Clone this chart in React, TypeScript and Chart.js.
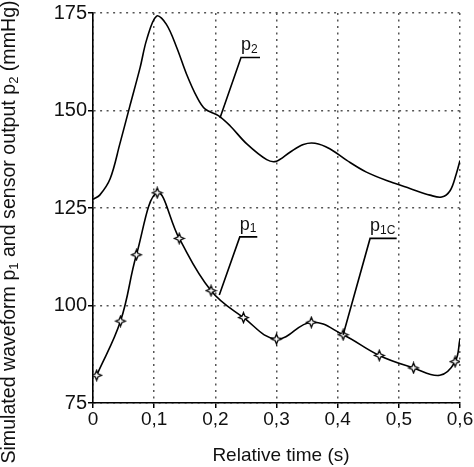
import { useEffect, useRef } from 'react';
import { Chart, registerables } from 'chart.js';

Chart.register(...registerables);

// Axis ticks
const timeTicks = [0, 0.1, 0.2, 0.3, 0.4, 0.5, 0.6];
const timeTickLabels = ['0', '0,1', '0,2', '0,3', '0,4', '0,5', '0,6'];
const pressureTicks = [75, 100, 125, 150, 175];

// Sensor output p2 (mmHg) over relative time (s)
const p2Time = [
  0.0, 0.011, 0.028, 0.044, 0.06, 0.077, 0.088, 0.104, 0.12, 0.137, 0.153, 0.17,
  0.183, 0.205, 0.224, 0.251, 0.284, 0.3, 0.322, 0.344, 0.363, 0.387, 0.415,
  0.447, 0.486, 0.518, 0.551, 0.57, 0.584, 0.594, 0.6,
];
const p2Value = [
  127.2, 128.3, 132.5, 141.5, 151.0, 161.0, 168.3, 174.2, 172.1, 166.1, 159.3, 153.4,
  150.4, 148.7, 146.1, 141.5, 137.4, 137.0, 139.3, 141.3, 141.6, 140.2, 137.2,
  134.2, 131.7, 130.0, 128.3, 127.8, 129.5, 133.8, 137.2,
];

// Simulated waveform p1 (mmHg); marked samples carry a star symbol
const p1Time = [
  0.006, 0.045, 0.071, 0.105, 0.141, 0.193, 0.246, 0.3, 0.357, 0.409, 0.468, 0.524,
  0.567, 0.592, 0.6,
];
const p1Value = [
  82.1, 96.0, 113.0, 128.9, 117.2, 103.8, 96.9, 91.4, 95.7, 92.5, 87.2, 84.0,
  82.1, 85.6, 91.4,
];
const p1Marked = [
  true, true, true, true, true, true, true, true, true, true, true, true,
  false, true, false,
];

const FONT = 'Arial, "Liberation Sans", Helvetica, sans-serif';

// Leader lines with their curve labels, in data coordinates
const leaders = [
  { main: 'p', sub: '2', at: [0.2076, 148.1], elbow: [0.242, 163.6], endX: 0.273 },
  { main: 'p', sub: '1', at: [0.2065, 102.7], elbow: [0.24, 117.6], endX: 0.2686 },
  { main: 'p', sub: '1C', at: [0.409, 92.5], elbow: [0.453, 117.2], endX: 0.4965 },
];

function makeStar(): HTMLCanvasElement {
  const c = document.createElement('canvas');
  const s = 13;
  c.width = s;
  c.height = s;
  const g = c.getContext('2d')!;
  const cx = s / 2;
  const cy = s / 2;
  const R = 5;
  const r = 2;
  g.beginPath();
  for (let i = 0; i < 8; i++) {
    const a = -Math.PI / 2 + (i * Math.PI) / 4;
    const rad = i % 2 === 0 ? R : r;
    const px = cx + rad * Math.cos(a);
    const py = cy + rad * Math.sin(a);
    if (i === 0) g.moveTo(px, py);
    else g.lineTo(px, py);
  }
  g.closePath();
  g.fillStyle = '#fff';
  g.fill();
  g.lineWidth = 1.3;
  g.strokeStyle = '#000';
  g.stroke();
  return c;
}

type Part = { t: string; sub?: boolean };

function richWidth(ctx: CanvasRenderingContext2D, parts: Part[], main: string, small: string) {
  let w = 0;
  for (const p of parts) {
    ctx.font = p.sub ? small : main;
    w += ctx.measureText(p.t).width;
  }
  return w;
}

function drawRich(
  ctx: CanvasRenderingContext2D,
  parts: Part[],
  x: number,
  y: number,
  main: string,
  small: string,
  subShift: number,
) {
  let cx = x;
  ctx.textBaseline = 'alphabetic';
  ctx.textAlign = 'left';
  for (const p of parts) {
    ctx.font = p.sub ? small : main;
    ctx.fillText(p.t, cx, p.sub ? y + subShift : y);
    cx += ctx.measureText(p.t).width;
  }
}

const leaderPlugin = {
  id: 'leaders',
  afterDatasetsDraw(chart: any) {
    const { ctx, scales } = chart;
    const xs = scales.x;
    const ys = scales.y;
    ctx.save();
    ctx.strokeStyle = '#000';
    ctx.fillStyle = '#111';
    ctx.lineWidth = 1.6;
    for (const l of leaders) {
      const ax = xs.getPixelForValue(l.at[0]);
      const ay = ys.getPixelForValue(l.at[1]);
      const ex = xs.getPixelForValue(l.elbow[0]);
      const ey = ys.getPixelForValue(l.elbow[1]);
      const endX = xs.getPixelForValue(l.endX);
      ctx.beginPath();
      ctx.moveTo(ax, ay);
      ctx.lineTo(ex, ey);
      ctx.lineTo(endX, ey);
      ctx.stroke();
      drawRich(
        ctx,
        [{ t: l.main }, { t: l.sub, sub: true }],
        ex,
        ey - 7,
        `18px ${FONT}`,
        `12px ${FONT}`,
        2.5,
      );
    }
    ctx.restore();
  },
};

const titlePlugin = {
  id: 'axisTitles',
  afterDraw(chart: any) {
    const { ctx } = chart;
    ctx.save();
    ctx.fillStyle = '#111';
    // Horizontal axis title
    ctx.font = `19px ${FONT}`;
    ctx.textAlign = 'center';
    ctx.textBaseline = 'alphabetic';
    ctx.fillText('Relative time (s)', 281, 461);
    // Vertical axis title with subscripts
    const parts: Part[] = [
      { t: 'Simulated waveform p' },
      { t: '1', sub: true },
      { t: ' and sensor output p' },
      { t: '2', sub: true },
      { t: ' (mmHg)' },
    ];
    const main = `19.6px ${FONT}`;
    const small = `13px ${FONT}`;
    const w = richWidth(ctx, parts, main, small);
    ctx.translate(15, 232);
    ctx.rotate(-Math.PI / 2);
    drawRich(ctx, parts, -w / 2, 0, main, small, 3);
    ctx.restore();
  },
};

export default function App() {
  const ref = useRef<HTMLCanvasElement>(null);

  useEffect(() => {
    const canvas = ref.current;
    if (!canvas) return;
    const star = makeStar();
    Chart.defaults.font.family = FONT;

    const gridStyle = {
      color: '#555',
      lineWidth: 1.5,
      tickLength: 5,
      tickColor: '#000',
      tickWidth: 1.5,
    };

    const chart = new Chart(canvas, {
      type: 'line',
      data: {
        datasets: [
          {
            label: 'p2',
            data: p2Time.map((t, i) => ({ x: t, y: p2Value[i] })),
            borderColor: '#000',
            borderWidth: 1.6,
            pointRadius: 0,
            tension: 0.35,
            fill: false,
          },
          {
            label: 'p1',
            data: p1Time.map((t, i) => ({ x: t, y: p1Value[i] })),
            borderColor: '#000',
            borderWidth: 1.6,
            pointRadius: p1Marked.map((m) => (m ? 5 : 0)),
            pointStyle: star,
            tension: 0.4,
            fill: false,
          },
        ],
      },
      options: {
        responsive: false,
        animation: false,
        events: [],
        layout: { padding: { top: 12, right: 14, left: 0, bottom: 0 } },
        plugins: {
          legend: { display: false },
          tooltip: { enabled: false },
        },
        scales: {
          x: {
            type: 'linear',
            min: 0,
            max: 0.6,
            afterBuildTicks: (s: any) => {
              s.ticks = timeTicks.map((v) => ({ value: v }));
            },
            afterFit: (s: any) => {
              s.height = 64;
            },
            ticks: {
              callback: (_v: any, i: number) => timeTickLabels[i],
              font: { size: 19, family: FONT },
              color: '#111',
              padding: 0,
              maxRotation: 0,
              autoSkip: false,
            },
            grid: gridStyle,
            border: { color: '#000', width: 1.6, dash: [2, 4.5] },
          },
          y: {
            type: 'linear',
            min: 75,
            max: 175,
            afterBuildTicks: (s: any) => {
              s.ticks = pressureTicks.map((v) => ({ value: v }));
            },
            afterFit: (s: any) => {
              s.width = 93;
            },
            ticks: {
              callback: (v: any) => String(v),
              font: { size: 20, family: FONT },
              color: '#111',
              padding: 1,
              autoSkip: false,
            },
            grid: gridStyle,
            border: { color: '#000', width: 1.6, dash: [2, 4.5] },
          },
        },
      },
      plugins: [leaderPlugin, titlePlugin],
    });

    return () => chart.destroy();
  }, []);

  return (
    <canvas
      ref={ref}
      width={474}
      height={467}
      style={{ position: 'absolute', left: 0, top: 0, background: '#fff' }}
    />
  );
}
